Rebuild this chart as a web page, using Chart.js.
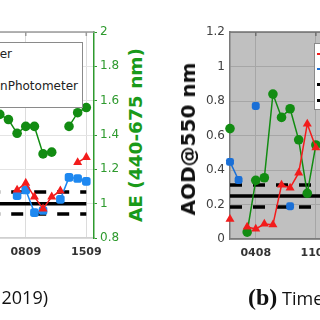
<!DOCTYPE html>
<html lang="en">
<head>
<meta charset="UTF-8" />
<title>AOD / AE time series</title>
<script src="https://cdn.jsdelivr.net/npm/chart.js"></script>
<style>
  * { margin: 0; padding: 0; box-sizing: border-box; }
  body {
    width: 320px; height: 320px; overflow: hidden; position: relative;
    background: #fff; font-family: 'DejaVu Sans', sans-serif;
  }
  canvas { position: absolute; top: 0; }
  #chartA { left: -40px; }
  #chartB { left: 195px; }

  .ytitle {
    position: absolute; white-space: nowrap; font-weight: bold;
    transform: translate(-50%, -50%) rotate(-90deg);
  }
  #titleAE  { left: 135px; top: 135px; font-size: 18.5px; color: #1a9a1a; }
  #titleAOD { left: 188px; top: 139px; font-size: 20px; color: #111; }

  .legend {
    position: absolute; background: #fff; border: 1.5px solid #8a8a8a;
  }
  #legA { left: -60px; top: 42px; width: 143px; height: 66px; }
  #legA span {
    position: absolute; white-space: nowrap; font-size: 12px; line-height: 14px; color: #222;
  }
  #legB { left: 314px; top: 43px; width: 80px; height: 67px; border-width: 1px; }
  #legB i { position: absolute; left: 2px; width: 10px; }

  .caption { position: absolute; white-space: nowrap; font-family: 'Open Sans', sans-serif; font-size: 18px; line-height: 24px; color: #111; }
  #capA { right: 272px; top: 285px; }
  #capB { left: 248px; top: 285px; }
  #capB b { font-family: 'Liberation Serif', serif; font-size: 24px; }
</style>
</head>
<body>
  <canvas id="chartA" width="164" height="320"></canvas>
  <canvas id="chartB" width="169" height="320"></canvas>

  <div class="legend" id="legA">
    <span style="right:70px; top:4px">Ceilometer</span>
    <span style="right:4px; top:36px">SunPhotometer</span>
  </div>
  <div class="legend" id="legB">
    <i style="top:9px; height:1.5px; background:#f21c1c"></i>
    <i style="top:24px; height:1.5px; background:#1a6fd6"></i>
    <i style="top:39px; height:3px; background:#000"></i>
    <i style="top:55px; height:3px; background:#000"></i>
  </div>

  <div class="ytitle" id="titleAE">AE (440-675 nm)</div>
  <div class="ytitle" id="titleAOD">AOD@550 nm</div>

  <div class="caption" id="capA">(a) Time series (September 2019)</div>
  <div class="caption" id="capB"><b>(b)</b> Time series (August 2019)</div>

<script>
  // panel (a): September, AE scale
  const daysA   = [5, 6, 7, 8, 9, 10, 11, 12, 13, 14, 15];
  const greenA  = [1.52, 1.49, 1.41, 1.45, 1.45, 1.29, 1.30, null, 1.45, 1.53, 1.56];
  const redA    = [null, null, 1.08, 1.12, 1.04, 0.97, 1.04, 1.075, null, 1.24, 1.27];
  const blueA   = [null, null, 1.047, 1.08, 0.948, 0.96, null, 1.025, 1.153, 1.147, 1.13];
  const refDaysA = [1, 15];
  const meanA = 1.0, lowA = 0.94, highA = 1.068;
  const tickDaysA = [8, 15];
  const tickLabelsA = ['0809', '1509'];

  // panel (b): August, AOD scale
  const daysB   = [1, 2, 3, 4, 5, 6, 7, 8, 9, 10, 11];
  const greenB  = [0.64, null, 0.04, 0.34, 0.355, 0.84, 0.705, 0.755, 0.575, 0.265, 0.545];
  const redB    = [0.115, null, 0.07, 0.058, 0.087, 0.083, 0.313, 0.296, 0.383, 0.667, 0.53];
  const blueB   = [0.447, 0.342, null, 0.771, null, null, null, 0.19, null, null, null];
  const refDaysB = [1, 16];
  const meanB = 0.25, lowB = 0.186, highB = 0.313;
  const tickDaysB = [4, 11];
  const tickLabelsB = ['0408', '1108'];

  const pts = (days, vals) => days.map((d, i) => ({ x: d, y: vals[i] }));
  const level = (days, v) => days.map(d => ({ x: d, y: v }));
  const shortNum = v => String(Number(v.toFixed(1)));   // 2, 1.8 ... 1, 0.8

  const GREEN = '#128c12', RED = '#f21c1c';

  function series(label, data, color, style, r) {
    return {
      label, data, borderColor: color, backgroundColor: color,
      borderWidth: 1.5, pointStyle: style, pointRadius: r, pointBorderWidth: 0,
      tension: 0, clip: 8
    };
  }
  function refLine(label, data, dashed) {
    return {
      label, data, borderColor: '#000', borderWidth: 3.5, pointRadius: 0,
      borderDash: dashed ? [12, 11] : [], clip: 4
    };
  }

  // gray plot background, top border and top tick marks
  const frame = {
    id: 'frame',
    beforeDraw(chart, args, opts) {
      if (!opts.fill) return;
      const { ctx, chartArea: a } = chart;
      ctx.save();
      ctx.fillStyle = opts.fill;
      ctx.fillRect(a.left, a.top, a.right - a.left, a.bottom - a.top);
      ctx.restore();
    },
    afterDatasetsDraw(chart, args, opts) {
      const { ctx, chartArea: a, scales } = chart;
      ctx.save();
      ctx.strokeStyle = opts.color;
      ctx.lineWidth = 1.5;
      ctx.beginPath();
      ctx.moveTo(a.left, a.top);
      ctx.lineTo(a.right, a.top);
      scales.x.ticks.forEach(t => {
        const x = scales.x.getPixelForValue(t.value);
        ctx.moveTo(x, a.top);
        ctx.lineTo(x, a.top + 4);
      });
      ctx.stroke();
      ctx.restore();
    }
  };

  function xAxis(min, max, tickDays, tickLabels, gridColor, borderColor, h) {
    return {
      type: 'linear', min, max,
      afterBuildTicks: s => { s.ticks = tickDays.map(v => ({ value: v })); },
      afterFit: s => { s.height = h; s.paddingLeft = 0; s.paddingRight = 0; },
      grid: { color: gridColor, drawTicks: false },
      border: { color: borderColor, width: 1.5 },
      ticks: {
        autoSkip: false, maxRotation: 0, padding: 8, color: '#333',
        font: { family: 'DejaVu Sans', size: 11, weight: 'bold' },
        callback: (v, i) => tickLabels[i]
      }
    };
  }

  new Chart(document.getElementById('chartA'), {
    type: 'line',
    data: {
      datasets: [
        series('Ceilometer', pts(daysA, redA), RED, 'triangle', 5.2),
        series('SunPhotometer', pts(daysA, blueA), '#1e88f0', 'rectRounded', 5),
        series('AE', pts(daysA, greenA), GREEN, 'circle', 4.8),
        refLine('mean', level(refDaysA, meanA), false),
        refLine('upper', level(refDaysA, highA), true),
        refLine('lower', level(refDaysA, lowA), true)
      ]
    },
    options: {
      responsive: false, animation: false,
      layout: { padding: { top: 32, right: 0, left: 0, bottom: 0 } },
      plugins: { legend: { display: false }, tooltip: { enabled: false },
                 frame: { color: '#9a9a9a' } },
      scales: {
        x: xAxis(1, 15 + 8 / 9, tickDaysA, tickLabelsA, '#dcdcdc', '#d0d0d0', 82),
        y: {
          position: 'right', min: 0.8, max: 2,
          afterFit: s => { s.width = 30; s.paddingTop = 0; s.paddingBottom = 0; },
          grid: { color: '#e4e4e4', tickLength: 3, tickColor: '#2e9a2e' },
          border: { color: '#2e9a2e', width: 1.5 },
          ticks: { stepSize: 0.2, padding: 3, color: '#2e9a2e',
                   font: { family: 'DejaVu Sans', size: 12 }, callback: shortNum }
        }
      }
    },
    plugins: [frame]
  });

  new Chart(document.getElementById('chartB'), {
    type: 'line',
    data: {
      datasets: [
        series('Ceilometer', pts(daysB, redB), RED, 'triangle', 5.2),
        series('SunPhotometer', pts(daysB, blueB), '#1a6fd6', 'rectRounded', 4.6),
        series('AE', pts(daysB, greenB), GREEN, 'circle', 4.8),
        refLine('mean', level(refDaysB, meanB), false),
        refLine('upper', level(refDaysB, highB), true),
        refLine('lower', level(refDaysB, lowB), true)
      ]
    },
    options: {
      responsive: false, animation: false,
      layout: { padding: { top: 32, right: 0, left: 0, bottom: 0 } },
      plugins: { legend: { display: false }, tooltip: { enabled: false },
                 frame: { color: '#707070', fill: '#c0c0c0' } },
      scales: {
        x: xAxis(1, 16, tickDaysB, tickLabelsB, '#a6a6a6', '#7a7a7a', 81),
        y: {
          position: 'left', min: 0, max: 1.2,
          afterFit: s => { s.width = 35; s.paddingTop = 0; s.paddingBottom = 0; },
          grid: { color: '#a6a6a6', drawTicks: false },
          border: { color: '#7a7a7a', width: 1.5 },
          ticks: { stepSize: 0.2, padding: 5, color: '#404040',
                   font: { family: 'DejaVu Sans', size: 12 }, callback: shortNum }
        }
      }
    },
    plugins: [frame]
  });
</script>
</body>
</html>
